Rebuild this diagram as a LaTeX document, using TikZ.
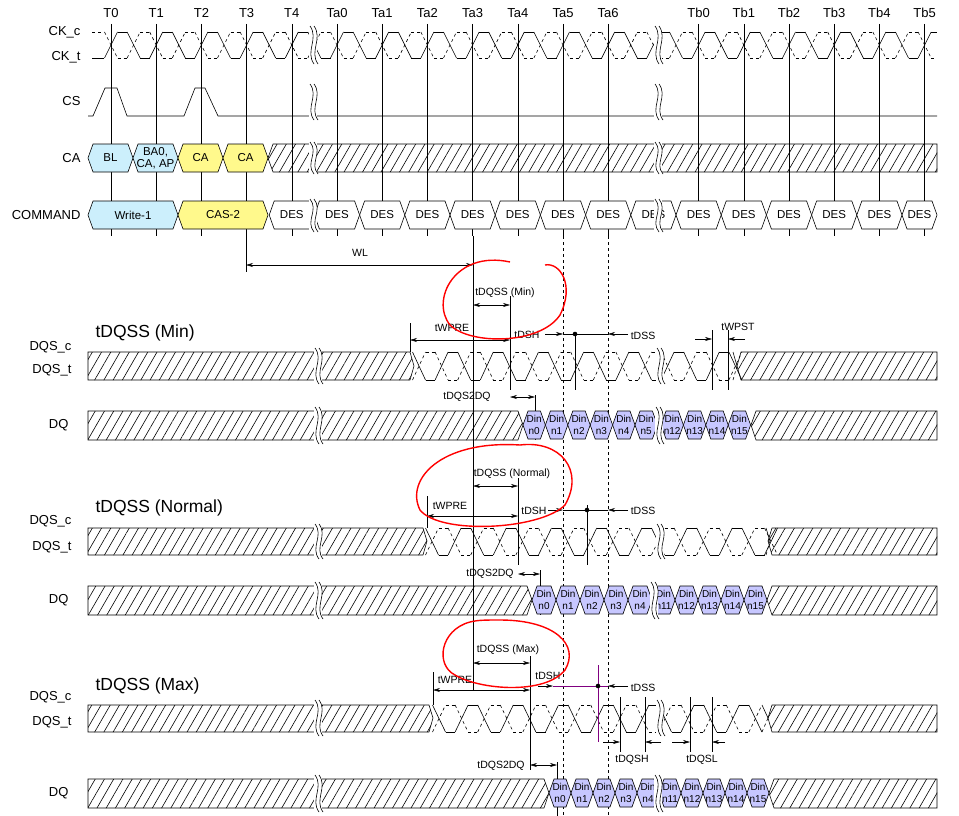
\documentclass[tikz,border=0pt]{standalone}
\usepackage{fontspec}
\setmainfont{Liberation Sans}
\usetikzlibrary{patterns.meta,arrows.meta}
\begin{document}
\begin{tikzpicture}[x=1pt,y=-1pt,
  lab/.style={font=\fontsize{13}{14}\selectfont},
  sm/.style={font=\fontsize{10.5}{11}\selectfont},
  ttl/.style={font=\fontsize{17.5}{19}\selectfont,anchor=west},
  hatch/.style={pattern={Lines[angle=60,distance=8pt,line width=0.6pt]}},
  dim/.style={{Stealth[length=7pt,width=4pt]}-{Stealth[length=7pt,width=4pt]},line width=0.5pt},
  ar/.style={-{Stealth[length=7pt,width=4pt]},line width=0.5pt},
  red circ/.style={red,line width=1.4pt},
  wav/.style={line width=0.6pt}]
\useasboundingbox (0,0) rectangle (959,816);
\def\P{45.2}\def\H{22.6}\def\S{6.5}
\newcommand\bus[6]{\path[draw,line width=0.6pt,#5] (#1,#3)--({#1+5},{#3-#4})--({#2-5},{#3-#4})--(#2,#3)--({#2-5},{#3+#4})--({#1+5},{#3+#4})--cycle;
  \node[align=center,inner sep=0pt,font=\fontsize{11.5}{11.5}\selectfont] at ({(#1+#2)/2},#3) {#6};}
\newcommand\diffwave[5]{%
 \foreach \k in {0,...,#2}{%
  \pgfmathsetmacro\xx{#1+\k*\H}%
  \pgfmathsetmacro\pp{mod(\k+#5,2)}%
  \ifdim\pp pt>0.5pt
   \draw[wav] ({\xx-\S},#4)--({\xx+\S},#3); \draw[wav,dashed] ({\xx-\S},#3)--({\xx+\S},#4);
   \ifnum\k<#2 \draw[wav]({\xx+\S},#3)--({\xx+\H-\S},#3);\draw[wav,dashed]({\xx+\S},#4)--({\xx+\H-\S},#4);\fi
  \else
   \draw[wav] ({\xx-\S},#3)--({\xx+\S},#4); \draw[wav,dashed] ({\xx-\S},#4)--({\xx+\S},#3);
   \ifnum\k<#2 \draw[wav]({\xx+\S},#4)--({\xx+\H-\S},#4);\draw[wav,dashed]({\xx+\S},#3)--({\xx+\H-\S},#3);\fi
  \fi}}
\newcommand\brk[3]{\fill[white] ({#1-4},#2) rectangle ({#1+4},#3);
 \draw[line width=0.6pt] ({#1-3},#2) .. controls ({#1+6},{(#2*2+#3)/3}) and ({#1-8},{(#2+2*#3)/3}) .. ({#1+1},#3);
 \draw[line width=0.6pt] ({#1+1},#2) .. controls ({#1+10},{(#2*2+#3)/3}) and ({#1-4},{(#2+2*#3)/3}) .. ({#1+5},#3);}
\foreach \k/\t in {0/T0,1/T1,2/T2,3/T3,4/T4,5/Ta0,6/Ta1,7/Ta2,8/Ta3,9/Ta4,10/Ta5,11/Ta6,13/Tb0,14/Tb1,15/Tb2,16/Tb3,17/Tb4,18/Tb5}{
  \pgfmathsetmacro\xx{111+\k*\P}
  \node[lab] (t\k) at (\xx,13) {\t};
  \draw[line width=0.5pt] (\xx,24)--(\xx,236);}
\foreach \y/\t in {32/CK\_c,57/CK\_t,101/CS,158/CA,215/COMMAND}{\node[lab,anchor=east] at (84,\y) {\t};}
\draw[wav] (92,58)--(104,58); \draw[wav,dashed] (92,32)--(104,32);
\diffwave{111}{36}{32}{58}{1}
\draw[wav] (931,32)--(937,32); \draw[wav,dashed] (931,58)--(937,58);
\draw[wav] (88,116)--(93,116)--(105,88)--(117,88)--(127,116)--(184,116)--(195,88)--(205,88)--(218,116)--(937,116);
\bus{88}{133}{158}{14}{fill=cyan!20}{BL}
\bus{133}{178}{158}{14}{fill=cyan!20}{BA0,\\CA, AP}
\bus{178}{223}{158}{14}{fill=yellow!45}{CA}
\bus{223}{268}{158}{14}{fill=yellow!45}{CA}
\path[draw,line width=0.6pt,hatch] (268,158)--(273,144)--(937,144)--(937,172)--(273,172)--cycle;
\bus{88}{178}{215}{14}{fill=cyan!20}{Write-1}
\bus{178}{268}{215}{14}{fill=yellow!45}{CAS-2}
\foreach \k in {4,...,12}{\pgfmathsetmacro\xx{111+\k*\P}\bus{\xx-22.6}{\xx+22.6}{215}{14}{fill=white}{DES}}
\foreach \k in {13,...,17}{\pgfmathsetmacro\xx{111+\k*\P}\bus{\xx-22.6}{\xx+22.6}{215}{14}{fill=white}{DES}}
\bus{902}{937}{215}{14}{fill=white}{DES}
\brk{313}{26}{64}\brk{313}{84}{120}\brk{313}{142}{174}\brk{313}{199}{232}
\brk{658}{26}{64}\brk{658}{84}{120}\brk{658}{142}{174}\brk{658}{199}{232}
\draw[line width=0.5pt] (246,236)--(246,272);
\draw[dim] (246,265)--(473,265); \node[sm] at (360,253) {WL};
\draw[line width=0.5pt] (473,236)--(473,690);
\draw[line width=0.5pt,dashed] (563,236)--(563,816);
\draw[line width=0.5pt,dashed] (608,236)--(608,816);
% Min
\node[ttl] at (92,333) {tDQSS (Min)};
\node[lab,anchor=east] at (75,347) {DQS\_c}; \node[lab,anchor=east] at (75,370) {DQS\_t}; \node[lab,anchor=east] at (72,425) {DQ};
\path[draw,line width=0.6pt,hatch] (88,352)--(410,352)--(414,366)--(410,380)--(88,380)--cycle;
\diffwave{419}{14}{352}{380}{0}
\path[draw,line width=0.6pt,hatch] (737,366)--(741,352)--(937,352)--(937,380)--(741,380)--cycle;
\draw[wav] (733,352)--(737,366); \draw[wav,dashed](733,380)--(737,366);
\brk{660}{348}{384}
\draw[line width=0.5pt] (510,296)--(510,390) (410,323)--(410,352) (575,335)--(575,390) (712,330)--(712,390) (728,330)--(728,390) (535,395)--(535,440);
\draw[dim] (473,305)--(510,305); \node[sm] at (505,293) {tDQSS (Min)};
\draw[dim] (410,340)--(510,340); \node[sm] at (452,328) {tWPRE};
\node[sm] at (527,335) {tDSH}; \draw[ar] (545,334)--(563,334); \draw[line width=0.5pt] (563,334)--(608,334); \fill (575,334) circle (2.3);
\draw[ar] (628,334)--(608,334); \node[sm] at (643,336) {tDSS};
\draw[ar] (695,339)--(712,339); \draw[ar] (745,339)--(728,339); \node[sm] at (738,327) {tWPST};
\draw[dim] (510,397)--(535,397); \node[sm] at (467,397) {tDQS2DQ};
\path[draw,line width=0.6pt,hatch] (88,411)--(518,411)--(523,425)--(518,440)--(88,440)--cycle;
\foreach \i/\n in {0/0,1/1,2/2,3/3,4/4,5/5}{\pgfmathsetmacro\xa{523+\i*22.4}\bus{\xa}{\xa+22.4}{425}{14}{fill=blue!22}{\fontsize{10}{10}\selectfont Din\\\fontsize{10}{10}\selectfont n\n}}
\foreach \i/\n in {0/12,1/13,2/14,3/15}{\pgfmathsetmacro\xa{661+\i*22.4}\bus{\xa}{\xa+22.4}{425}{14}{fill=blue!22}{\fontsize{10}{10}\selectfont Din\\\fontsize{10}{10}\selectfont n\n}}
\path[draw,line width=0.6pt,hatch] (751,425)--(756,411)--(937,411)--(937,440)--(756,440)--cycle;
\brk{318}{348}{384}\brk{318}{407}{444}\brk{659}{407}{444}
\draw[red circ] (510,262) .. controls (455,250) and (430,300) .. (450,325) .. controls (470,345) and (540,345) .. (560,315) .. controls (575,285) and (560,262) .. (545,265);
% Normal
\node[ttl] at (92,508) {tDQSS (Normal)};
\node[lab,anchor=east] at (75,521) {DQS\_c}; \node[lab,anchor=east] at (75,547) {DQS\_t}; \node[lab,anchor=east] at (72,600) {DQ};
\path[draw,line width=0.6pt,hatch] (88,528)--(423,528)--(427,541)--(423,555)--(88,555)--cycle;
\diffwave{432}{15}{528}{555}{0}
\path[draw,line width=0.6pt,hatch] (768,541)--(772,528)--(937,528)--(937,555)--(772,555)--cycle;
\draw[wav] (766,528)--(770,541); \draw[wav,dashed](766,555)--(770,541);
\brk{660}{524}{559}
\draw[line width=0.5pt] (518,478)--(518,565) (427,496)--(427,528) (587,505)--(587,565) (540,570)--(540,615);
\draw[dim] (473,486)--(518,486); \node[sm] at (512,474) {tDQSS (Normal)};
\draw[dim] (427,516)--(518,516); \node[sm] at (450,506) {tWPRE};
\node[sm] at (534,511) {tDSH}; \draw[ar] (548,510)--(563,510); \draw[line width=0.5pt] (563,510)--(608,510); \fill (587,510) circle (2.3);
\draw[ar] (628,510)--(608,510); \node[sm] at (643,511) {tDSS};
\draw[dim] (518,574)--(540,574); \node[sm] at (490,574) {tDQS2DQ};
\path[draw,line width=0.6pt,hatch] (88,586)--(527,586)--(532,600)--(527,615)--(88,615)--cycle;
\foreach \i/\n in {0/0,1/1,2/2,3/3,4/4}{\pgfmathsetmacro\xa{532+\i*24}\bus{\xa}{\xa+24}{600}{14}{fill=blue!22}{\fontsize{10}{10}\selectfont Din\\\fontsize{10}{10}\selectfont n\n}}
\foreach \i/\n in {0/11,1/12,2/13,3/14,4/15}{\pgfmathsetmacro\xa{652+\i*23}\bus{\xa}{\xa+23}{600}{14}{fill=blue!22}{\fontsize{10}{10}\selectfont Din\\\fontsize{10}{10}\selectfont n\n}}
\path[draw,line width=0.6pt,hatch] (767,600)--(772,586)--(937,586)--(937,615)--(772,615)--cycle;
\brk{318}{524}{559}\brk{318}{582}{619}\brk{654}{582}{619}
\draw[red circ] (520,445) .. controls (440,440) and (405,480) .. (420,510) .. controls (440,535) and (540,530) .. (565,505) .. controls (585,470) and (560,440) .. (520,445);
% Max
\node[ttl] at (92,686) {tDQSS (Max)};
\node[lab,anchor=east] at (75,697) {DQS\_c}; \node[lab,anchor=east] at (75,722) {DQS\_t}; \node[lab,anchor=east] at (72,793) {DQ};
\path[draw,line width=0.6pt,hatch] (88,705)--(429,705)--(433,718)--(429,732)--(88,732)--cycle;
\diffwave{439}{14}{705}{732}{0}
\path[draw,line width=0.6pt,hatch] (768,718)--(772,705)--(937,705)--(937,732)--(772,732)--cycle;
\draw[wav] (762,705)--(768,718); \draw[wav,dashed](762,732)--(768,718);
\brk{660}{700}{736}
\draw[line width=0.5pt] (530,656)--(530,770) (433,672)--(433,705) (620,697)--(620,752) (645,697)--(645,752) (690,697)--(690,752) (712,697)--(712,752) (557,762)--(557,816);
\draw[dim] (473,663)--(530,663); \node[sm] at (508,650) {tDQSS (Max)};
\draw[dim] (433,690)--(530,690); \node[sm] at (455,680) {tWPRE};
\node[sm] at (548,676) {tDSH}; \draw[ar] (538,686)--(553,686);
\draw[line width=0.8pt,violet] (553,686)--(608,686) (598,665)--(598,742); \fill (598,686) circle (2.3);
\draw[ar] (628,686)--(608,686); \node[sm] at (643,688) {tDSS};
\draw[ar] (603,742)--(620,742); \draw[ar] (661,742)--(645,742); \node[sm] at (632,760) {tDQSH};
\draw[ar] (672,742)--(690,742); \draw[ar] (725,742)--(712,742); \node[sm] at (702,760) {tDQSL};
\draw[dim] (530,765)--(557,765); \node[sm] at (501,766) {tDQS2DQ};
\path[draw,line width=0.6pt,hatch] (88,779)--(544,779)--(549,793)--(544,808)--(88,808)--cycle;
\foreach \i/\n in {0/0,1/1,2/2,3/3,4/4}{\pgfmathsetmacro\xa{549+\i*22}\bus{\xa}{\xa+22}{793}{14}{fill=blue!22}{\fontsize{10}{10}\selectfont Din\\\fontsize{10}{10}\selectfont n\n}}
\foreach \i/\n in {0/11,1/12,2/13,3/14,4/15}{\pgfmathsetmacro\xa{659+\i*22}\bus{\xa}{\xa+22}{793}{14}{fill=blue!22}{\fontsize{10}{10}\selectfont Din\\\fontsize{10}{10}\selectfont n\n}}
\path[draw,line width=0.6pt,hatch] (769,793)--(774,779)--(937,779)--(937,808)--(774,808)--cycle;
\brk{318}{700}{736}\brk{318}{775}{812}\brk{658}{775}{812}
\draw[red circ] (470,622) .. controls (440,630) and (435,665) .. (455,675) .. controls (480,690) and (545,695) .. (565,670) .. controls (580,645) and (555,620) .. (500,620) .. controls (485,620) and (478,620) .. (470,622);
\end{tikzpicture}
\end{document}
